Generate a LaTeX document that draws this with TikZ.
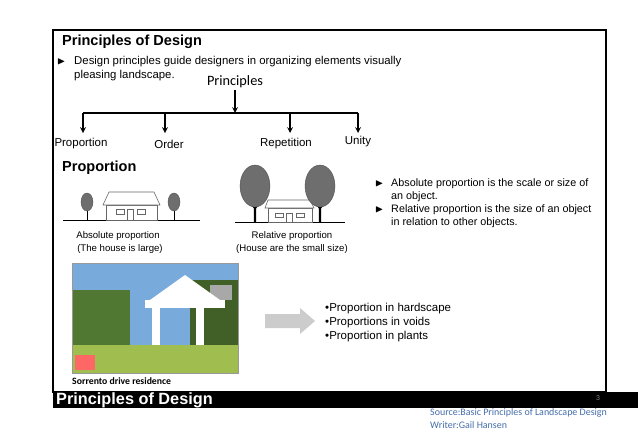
\documentclass[tikz,border=0pt]{standalone}
\usepackage{amssymb}
\usepackage{fontspec}
\setmainfont{Liberation Sans}
\newfontfamily\calib{Carlito}
\usetikzlibrary{positioning}

\definecolor{treegray}{RGB}{110,110,110}
\definecolor{srcblue}{RGB}{70,110,170}
\definecolor{skyblue}{RGB}{120,170,220}
\definecolor{leafgreen}{RGB}{80,120,50}
\definecolor{lightgreen}{RGB}{160,190,80}

\tikzset{
  txt/.style={anchor=west, inner sep=0pt, font=\fontsize{9.2}{11}\selectfont},
  lbl/.style={inner sep=0pt, font=\fontsize{9.8}{11}\selectfont},
  sketchcap/.style={inner sep=0pt, font=\fontsize{8.2}{10}\selectfont},
  head/.style={anchor=west, inner sep=0pt, font=\bfseries\fontsize{12.4}{14}\selectfont},
  branch/.style={->, >=stealth, line width=1.2pt},
  tree/.style={fill=treegray, draw=black!70, line width=0.3pt},
  house/.style={draw=black!60, fill=white, line width=0.5pt}
}

\begin{document}
\begin{tikzpicture}[x=0.03cm, y=-0.03cm]
\useasboundingbox (0,0) rectangle (638,442);
\fill[white] (0,0) rectangle (638,442);
\draw[line width=1pt] (53,30) rectangle (606,392);
% header
\node[head] (title) at (62,42) {Principles of Design};
\node[txt] (b1) at (57,62) {$\blacktriangleright$};
\node[txt, font=\fontsize{9.7}{11}\selectfont] (intro) at (74,62) {Design principles guide designers in organizing elements visually};
\node[txt, font=\fontsize{9.7}{11}\selectfont] (intro2) at (74,76) {pleasing landscape.};
% tree of principles
\node[inner sep=1pt, font=\calib\fontsize{12.2}{14}\selectfont] (prin) at (235,82) {Principles};
\coordinate (hub) at (235,113);
\coordinate (hl) at (83,113);
\coordinate (hr) at (358,113);
\draw[line width=1.2pt] (hl) -- (hr);
\draw[branch] (prin) -- (hub);
\node[lbl] (prop) at (81,144) {Proportion};
\node[lbl] (order) at (169,144) {Order};
\node[lbl] (rep) at (286,144) {Repetition};
\node[lbl] (unity) at (358,142) {Unity};
\foreach \x/\n in {83/prop,165/order,290/rep,358/unity}
  \draw[branch] (\x,113) -- (\x,133);
\node[head] (ptitle) at (62,168) {Proportion};
% absolute proportion sketch
\draw[line width=0.8pt] (63,220) -- (200,220);
\draw[house] (106,205) rectangle (157,220);
\draw[house] (103,205) -- (109,192) -- (154,192) -- (160,205) -- cycle;
\draw[house] (116,209) rectangle (124,214);
\draw[house] (127,209) rectangle (133,220);
\draw[house] (137,209) rectangle (145,214);
\foreach \x in {87,174} {
  \draw[black, line width=0.6pt] (\x,220) -- (\x,211);
  \draw[tree] (\x,202) ellipse (6 and 9);
}
% relative proportion sketch
\draw[line width=0.8pt] (235,222) -- (345,222);
\draw[house] (268,208) rectangle (312,222);
\draw[house] (265,208) -- (268,200) -- (310,200) -- (314,208) -- cycle;
\draw[house] (275,213) rectangle (283,217);
\draw[house] (286,213) rectangle (292,222);
\draw[house] (296,213) rectangle (304,217);
\foreach \x in {255,320} {
  \draw[black, line width=2pt] (\x,222) -- (\x,205) (\x,208) -- (\x-6,200) (\x,208) -- (\x+6,200);
  \draw[tree] (\x,186) ellipse (15 and 21);
}
\node[sketchcap] (abs1) at (118,236) {Absolute proportion};
\node[sketchcap] (abs2) at (120,249) {(The house is large)};
\node[sketchcap] (rel1) at (292,236) {Relative proportion};
\node[sketchcap] (rel2) at (292,249) {(House are the small size)};
% definitions
\node[txt] at (375,184) {$\blacktriangleright$};
\node[txt] (def1) at (391,184) {Absolute proportion is the scale or size of};
\node[txt] (def1b) at (391,197) {an object.};
\node[txt] at (375,210) {$\blacktriangleright$};
\node[txt] (def2) at (391,210) {Relative proportion is the size of an object};
\node[txt] (def2b) at (391,223) {in relation to other objects.};
% photo
\fill[skyblue] (72,263) rectangle (238,373);
\fill[leafgreen] (72,290) rectangle (130,373);
\fill[leafgreen!80!black] (190,280) rectangle (238,373);
\fill[treegray!60] (210,285) rectangle (232,300);
\fill[white] (150,300) -- (185,275) -- (220,300) -- cycle;
\fill[white] (145,300) rectangle (225,308);
\fill[white] (152,308) rectangle (160,360);
\fill[white] (196,308) rectangle (204,360);
\fill[lightgreen] (72,345) rectangle (238,373);
\fill[red!60!white] (75,355) rectangle (95,370);
\draw[black!40, line width=0.3pt] (72,263) rectangle (238,373);
\node[txt, font=\calib\bfseries\fontsize{8.3}{9}\selectfont] (photocap) at (72,381) {Sorrento drive residence};
% arrow to list
\fill[black!20] (265,314) -- (300,314) -- (300,308) -- (315,321) -- (300,334) -- (300,328) -- (265,328) -- cycle;
\node[txt, font=\fontsize{9.8}{11}\selectfont] (h1) at (325,309) {•Proportion in hardscape};
\node[txt, font=\fontsize{9.8}{11}\selectfont] (h2) at (325,323) {•Proportions in voids};
\node[txt, font=\fontsize{9.8}{11}\selectfont] (h3) at (325,337) {•Proportion in plants};
% footer
\fill[black] (53,392) rectangle (638,408);
\node[txt, white, font=\bfseries\fontsize{13.9}{15}\selectfont] (foot) at (56,400) {Principles of Design};
\node[inner sep=0pt, font=\fontsize{6}{7}\selectfont, black!50] (page) at (598,398) {3};
\node[txt, srcblue, font=\calib\fontsize{8.5}{10}\selectfont] (src1) at (430,413) {Source:Basic Principles of Landscape Design};
\node[txt, srcblue, font=\calib\fontsize{8.5}{10}\selectfont] (src2) at (430,425) {Writer:Gail Hansen};
\end{tikzpicture}
\end{document}
